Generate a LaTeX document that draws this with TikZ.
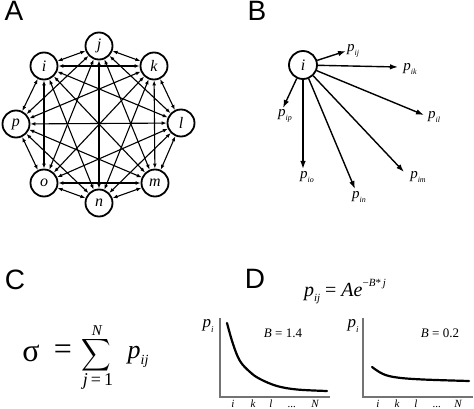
\documentclass[tikz,border=0pt]{standalone}
\usepackage{fontspec}
\setmainfont{Liberation Serif}
\newfontfamily\panelfont{Liberation Sans}
\usetikzlibrary{arrows.meta}
\newcommand\mypsub[3]{\fontsize{#1}{#1}\selectfont\itshape p\raisebox{-0.25em}{\fontsize{#2}{#2}\selectfont\itshape #3}}
\begin{document}
\begin{tikzpicture}[x=1pt,y=-1pt,
  vert/.style={circle,draw,line width=1.8pt,minimum size=27pt,inner sep=0pt,fill=white,
    font=\fontsize{16}{16}\selectfont\itshape},
  edge/.style={{Latex[length=5pt,width=3.8pt]}-{Latex[length=5pt,width=3.8pt]},line width=1.1pt},
  barrow/.style={-{Latex[length=8pt,width=5.5pt]},line width=1.4pt},
  panel/.style={font=\fontsize{28}{28}\selectfont\panelfont,inner sep=0pt},
  txt/.style={inner sep=0pt},
  axisline/.style={draw=black!55,line width=1.5pt},
  curve/.style={line width=2.2pt,line cap=round},
  tick/.style={inner sep=0pt,anchor=base,font=\fontsize{11}{11}\selectfont\itshape}]
\useasboundingbox (0,0) rectangle (474,409);
% panel letters
\node[panel] (LA) at (14,11) {A};
\node[panel] (LB) at (257,11) {B};
\node[panel] (LC) at (15,280) {C};
\node[panel] (LD) at (255,279) {D};
% ---------- panel A ----------
\node[vert] (ai) at (44,66) {i};
\node[vert] (aj) at (99,46) {j};
\node[vert] (ak) at (154,66) {k};
\node[vert] (al) at (181,123) {l};
\node[vert] (am) at (155,183) {m};
\node[vert] (an) at (99,203) {n};
\node[vert] (ao) at (44,183) {o};
\node[vert] (ap) at (16,124) {p};
\foreach \a [count=\ia] in {ai,aj,ak,al,am,an,ao,ap}{
  \foreach \b [count=\ib] in {ai,aj,ak,al,am,an,ao,ap}{
    \ifnum\ib>\ia \draw[edge] (\a) -- (\b); \fi
  }
}
% ---------- panel B ----------
\node[vert,minimum size=28pt] (bi) at (303,65) {i};
\coordinate (tij) at (346,51);
\coordinate (tik) at (398,67);
\coordinate (til) at (424,115);
\coordinate (tim) at (404,172);
\coordinate (tin) at (355,189);
\coordinate (tio) at (303,169);
\coordinate (tip) at (283,108);
\foreach \t in {tij,tik,til,tim,tin,tio,tip}{\draw[barrow] (bi) -- (\t);}
\node[txt,anchor=west] (pij) at (347,51) {\mypsub{15}{8}{ij}};
\node[txt] (pik) at (410,69) {\mypsub{15}{8}{ik}};
\node[txt] (pil) at (434,117) {\mypsub{15}{8}{il}};
\node[txt] (pim) at (418,177) {\mypsub{15}{8}{im}};
\node[txt] (pin) at (359,197) {\mypsub{15}{8}{in}};
\node[txt] (pio) at (307,177) {\mypsub{15}{8}{io}};
\node[txt] (pip) at (285,116) {\mypsub{15}{8}{ip}};
% ---------- panel C ----------
\node[txt,font=\fontsize{32}{32}\selectfont] (sig) at (31,353) {σ};
\node[txt,font=\fontsize{32}{32}\selectfont] (eq) at (63,352) {=};
\node[txt] (sum) at (96,355) {\scalebox{2.05}[2.25]{$\displaystyle\sum$}};
\node[txt,font=\fontsize{15}{15}\selectfont\itshape,anchor=south] (Nup) at (97,336) {N};
\node[txt,font=\fontsize{18}{18}\selectfont] (jlo) at (98,381) {\textit{j}\,=\,1};
\node[txt] (pijc) at (138,357) {\mypsub{26}{14}{ij}};
% ---------- panel D ----------
\node[txt] (form) at (345,292) {\fontsize{20}{20}\selectfont\itshape p\raisebox{-0.25em}{\fontsize{11}{11}\selectfont ij}\upshape{} = \itshape Ae\raisebox{0.5em}{\fontsize{11}{11}\selectfont\upshape −\itshape B\upshape*\,\itshape j}};
\draw[axisline] (220,318) -- (220,397) -- (330,397);
\draw[axisline] (363,318) -- (363,397) -- (473,397);
\node[txt] (pi1) at (208,326) {\mypsub{17}{9}{i}};
\node[txt] (pi2) at (353,326) {\mypsub{17}{9}{i}};
\node[txt,font=\fontsize{13}{13}\selectfont] (B1) at (283,333) {\textit{B} = 1.4};
\node[txt,font=\fontsize{13}{13}\selectfont] (B2) at (440,333) {\textit{B} = 0.2};
\draw[curve] plot[smooth,tension=0.6] coordinates {(227,323) (233,344) (240,361) (250,372) (260,379) (277,386) (297,389.5) (327,391)};
\draw[curve] plot[smooth,tension=0.6] coordinates {(372,367) (383,374) (397,377.5) (423,379.5) (469,381)};
\node[tick] (t1i) at (233,407) {i};
\node[tick] (t1k) at (253,407) {k};
\node[tick] (t1l) at (271,407) {l};
\node[tick] (t1d) at (292,407) {...};
\node[tick] (t1N) at (315,407) {N};
\node[tick] (t2i) at (378,407) {i};
\node[tick] (t2k) at (397,407) {k};
\node[tick] (t2l) at (416,407) {l};
\node[tick] (t2d) at (437,407) {...};
\node[tick] (t2N) at (458,407) {N};
\end{tikzpicture}
\end{document}
